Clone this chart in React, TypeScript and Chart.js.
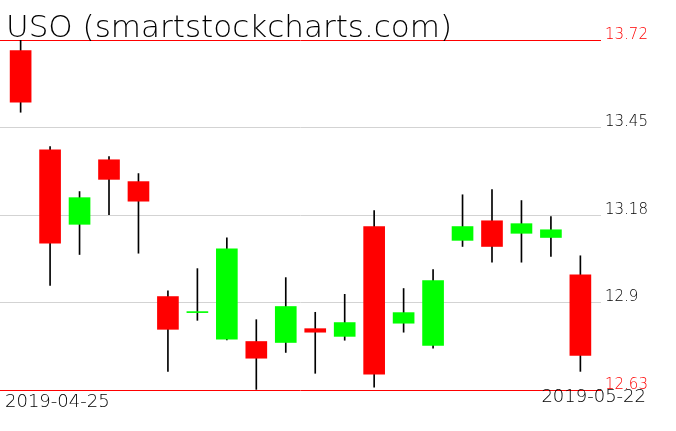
import { useEffect, useRef } from "react";
import { Chart, registerables } from "chart.js";

Chart.register(...registerables);

const dates = [
  "2019-04-25", "2019-04-26", "2019-04-29", "2019-04-30", "2019-05-01",
  "2019-05-02", "2019-05-03", "2019-05-06", "2019-05-07", "2019-05-08",
  "2019-05-09", "2019-05-10", "2019-05-13", "2019-05-14", "2019-05-15",
  "2019-05-16", "2019-05-17", "2019-05-20", "2019-05-21", "2019-05-22",
];

const openPrices = [
  13.687, 13.378, 13.146, 13.347, 13.279, 12.921, 12.871, 12.788, 12.781, 12.778,
  12.821, 12.797, 13.139, 12.838, 12.769, 13.096, 13.157, 13.118, 13.105, 12.989,
];
const closePrices = [
  13.526, 13.087, 13.229, 13.286, 13.218, 12.819, 12.871, 13.07, 12.729, 12.89,
  12.81, 12.84, 12.679, 12.871, 12.971, 13.139, 13.077, 13.148, 13.129, 12.738,
];
const highPrices = [
  13.72, 13.388, 13.248, 13.357, 13.304, 12.939, 13.008, 13.104, 12.849, 12.98,
  12.872, 12.928, 13.189, 12.946, 13.005, 13.238, 13.254, 13.22, 13.17, 13.048,
];
const lowPrices = [
  13.495, 12.956, 13.052, 13.176, 13.056, 12.688, 12.847, 12.786, 12.632, 12.747,
  12.682, 12.785, 12.639, 12.81, 12.76, 13.077, 13.028, 13.028, 13.046, 12.688,
];

const yTickValues = [12.63, 12.9025, 13.175, 13.4475, 13.72];
const yTickLabels = ["12.63", "12.9", "13.18", "13.45", "13.72"];

const TITLE = "USO (smartstockcharts.com)";
const FONT = "'DejaVu Sans', sans-serif";
const UP = "#00ff00";
const DOWN = "#ff0000";

// title and first/last date drawn straight on the canvas
const textPlugin = {
  id: "stockText",
  afterDraw(chart: Chart) {
    const ctx = chart.ctx;
    ctx.save();
    ctx.fillStyle = "#000";
    ctx.textBaseline = "alphabetic";
    ctx.font = `200 31px ${FONT}`;
    ctx.textAlign = "left";
    ctx.fillText(TITLE, 6, 37);
    ctx.font = `200 18px ${FONT}`;
    ctx.fillText(dates[0], 5, 407);
    ctx.textAlign = "right";
    ctx.fillText(dates[dates.length - 1], 646, 402);
    ctx.restore();
  },
};

export default function App() {
  const canvasRef = useRef<HTMLCanvasElement | null>(null);

  useEffect(() => {
    document.body.style.margin = "0";
    if (!canvasRef.current) return;

    const isEdge = (i: number) => i === 0 || i === yTickValues.length - 1;

    const chart = new Chart(canvasRef.current, {
      type: "bar",
      data: {
        datasets: [
          {
            label: "body",
            data: dates.map((_, i) => ({ x: i, y: [openPrices[i], closePrices[i]] })),
            backgroundColor: dates.map((_, i) =>
              closePrices[i] >= openPrices[i] ? UP : DOWN,
            ),
            barThickness: 21,
            minBarLength: 1,
            grouped: false,
            order: 0,
          },
          {
            label: "wick",
            data: dates.map((_, i) => ({ x: i, y: [lowPrices[i], highPrices[i]] })),
            backgroundColor: "#000",
            barThickness: 1,
            grouped: false,
            order: 1,
          },
        ] as any,
      },
      options: {
        responsive: false,
        animation: false,
        layout: { padding: { top: 40, bottom: 41, left: 0, right: 0 } },
        plugins: {
          legend: { display: false },
          tooltip: { enabled: false },
        },
        scales: {
          x: {
            type: "linear",
            min: -0.7,
            max: 19.7,
            offset: false,
            display: false,
          },
          y: {
            position: "right",
            min: 12.63,
            max: 13.72,
            z: 1,
            afterBuildTicks: (scale: any) => {
              scale.ticks = yTickValues.map((v) => ({ value: v }));
            },
            afterFit: (scale: any) => {
              scale.width = 75;
            },
            border: { display: false },
            grid: {
              drawTicks: false,
              lineWidth: 1,
              color: (c: any) => (isEdge(c.index) ? "#ff0000" : "#d3d3d3"),
            },
            ticks: {
              padding: 4,
              labelOffset: -5,
              font: { family: FONT, size: 15, weight: 200 as any },
              color: (c: any) => (isEdge(c.index) ? "#ff0000" : "#000000"),
              callback: (_v: any, i: number) => yTickLabels[i],
            },
          },
        },
      },
      plugins: [textPlugin],
    });

    return () => chart.destroy();
  }, []);

  return (
    <div style={{ width: 676, height: 431, background: "#fff" }}>
      <canvas ref={canvasRef} width={676} height={431} />
    </div>
  );
}
